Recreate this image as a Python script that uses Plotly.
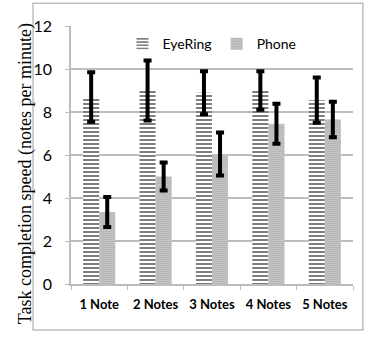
import plotly.graph_objects as go

categories = ["1 Note", "2 Notes", "3 Notes", "4 Notes", "5 Notes"]
eyering = [8.7, 9.0, 8.9, 9.0, 8.55]
eyering_err = [1.15, 1.4, 1.0, 0.9, 1.05]
phone = [3.35, 5.0, 6.05, 7.45, 7.65]
phone_err = [0.7, 0.65, 1.0, 0.93, 0.83]
y_ticks = [0, 2, 4, 6, 8, 10, 12]
y_title = "Task completion speed (notes per minute)"

fig = go.Figure()
fig.add_trace(go.Bar(
    name="EyeRing", x=categories, y=eyering,
    marker=dict(color="white", line=dict(width=0),
                pattern=dict(shape="-", size=4, solidity=0.5, fgcolor="black", bgcolor="white")),
    error_y=dict(type="data", array=eyering_err, color="black", thickness=4, width=4),
))
fig.add_trace(go.Bar(
    name="Phone", x=categories, y=phone,
    marker=dict(color="white", line=dict(width=0),
                pattern=dict(shape=".", size=2, solidity=0.6, fgcolor="black", bgcolor="white")),
    error_y=dict(type="data", array=phone_err, color="black", thickness=4, width=4),
))

fig.update_layout(
    width=368, height=343,
    margin=dict(l=71, r=15, t=26, b=59),
    paper_bgcolor="white", plot_bgcolor="white",
    barmode="group", bargap=0.43, bargroupgap=0,
    font=dict(family="Lato", color="black", size=13),
    legend=dict(orientation="h", x=0.5, xanchor="center", y=0.93, yanchor="middle",
                bgcolor="rgba(0,0,0,0)", font=dict(size=14), itemwidth=30),
    showlegend=True,
    shapes=[dict(type="rect", xref="paper", yref="paper",
                 x0=-38/282, x1=1.035, y0=-46/258, y1=1.088,
                 line=dict(color="#bfbfbf", width=1.5), fillcolor="rgba(0,0,0,0)", layer="below")],
    annotations=[dict(text=y_title, xref="paper", yref="paper", x=-0.163, y=0.426,
                      xanchor="center", yanchor="middle", textangle=-90, showarrow=False,
                      font=dict(family="Liberation Serif", size=18, color="black"))],
)
fig.update_yaxes(
    range=[0, 12], tickvals=y_ticks, showgrid=True, gridcolor="#bdbdbd", gridwidth=1.5,
    showline=True, linecolor="#bdbdbd", linewidth=1.5, ticks="outside", ticklen=4,
    tickcolor="#bdbdbd", ticklabelstandoff=10, tickfont=dict(size=16),
    zeroline=False,
)
fig.update_xaxes(
    showline=True, linecolor="#bdbdbd", linewidth=1.5, ticks="outside", ticklen=4,
    tickcolor="#bdbdbd", tickson="boundaries", tickfont=dict(size=13, weight="bold"),
    ticklabelstandoff=8, tickangle=0,
)
fig.write_html("out.html")
